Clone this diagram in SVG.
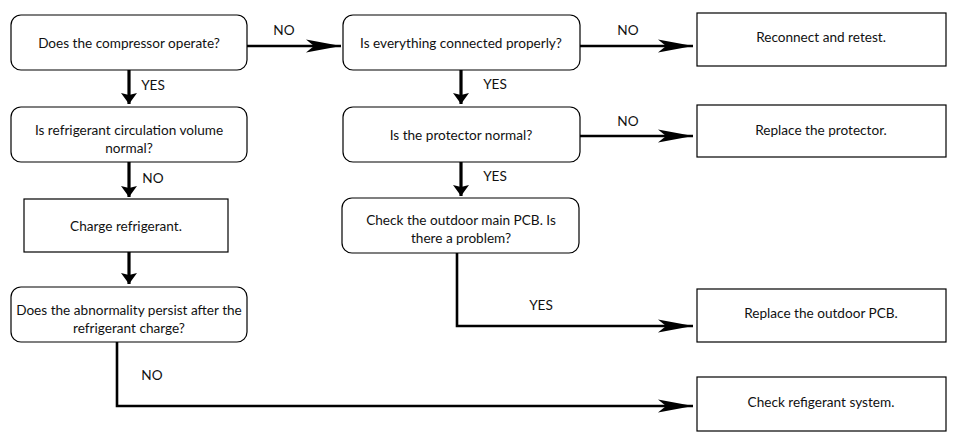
<svg xmlns="http://www.w3.org/2000/svg" width="959" height="440" viewBox="0 0 959 440">
<style>
.n{fill:#fff;stroke:#000;stroke-width:1.2}
.t{font-family:Lato,"Open Sans","Liberation Sans",sans-serif;font-size:13.6px;fill:#111;text-anchor:middle;dominant-baseline:central}
.c{fill:none;stroke:#000}
.h{stroke-width:2.6;marker-end:url(#ah)}
.v{stroke-width:3.2;marker-end:url(#av)}
</style>
<defs>
<marker id="ah" markerUnits="userSpaceOnUse" markerWidth="36" markerHeight="14" refX="35" refY="6.5" orient="auto" overflow="visible">
<path d="M0,0 L35,6.5 L0,13 L8,6.5 Z" fill="#000"/>
</marker>
<marker id="av" markerUnits="userSpaceOnUse" markerWidth="12" markerHeight="18" refX="11" refY="8" orient="auto" overflow="visible">
<path d="M0,0 L11,8 L0,16 L2,8 Z" fill="#000"/>
</marker>
</defs>
<rect width="959" height="440" fill="#fff"/>
<g id="connectors">
<path class="c h" d="M247,46 H341"/>
<path class="c h" d="M580,46 H693"/>
<path class="c h" d="M580,136 H693"/>
<path class="c h" d="M457,253 V326 H693"/>
<path class="c h" d="M117,342 V406 H693"/>
<path class="c v" d="M129,70 V104"/>
<path class="c v" d="M129,162 V197"/>
<path class="c v" d="M129,252 V284"/>
<path class="c v" d="M461,70 V104"/>
<path class="c v" d="M461,162 V196"/>
<text class="t" x="284" y="30">NO</text>
<text class="t" x="628" y="30">NO</text>
<text class="t" x="628" y="121">NO</text>
<text class="t" x="153" y="85">YES</text>
<text class="t" x="153" y="178">NO</text>
<text class="t" x="495" y="84">YES</text>
<text class="t" x="495" y="176">YES</text>
<text class="t" x="541" y="305">YES</text>
<text class="t" x="152" y="375">NO</text>
</g>
<g id="compressor"><rect class="n" x="11" y="15" width="236" height="55" rx="10"/><text class="t" x="129" y="43">Does the compressor operate?</text></g>
<g id="circulation"><rect class="n" x="11" y="107" width="236" height="55" rx="10"/><text class="t" x="129" y="130">Is refrigerant circulation volume</text><text class="t" x="129" y="148">normal?</text></g>
<g id="charge"><rect class="n" x="24" y="199" width="204" height="53"/><text class="t" x="126" y="226">Charge refrigerant.</text></g>
<g id="persist"><rect class="n" x="11" y="287" width="236" height="55" rx="10"/><text class="t" x="129" y="310">Does the abnormality persist after the</text><text class="t" x="129" y="328">refrigerant charge?</text></g>
<g id="connected"><rect class="n" x="343" y="15" width="237" height="55" rx="10"/><text class="t" x="461" y="43">Is everything connected properly?</text></g>
<g id="protector"><rect class="n" x="343" y="107" width="237" height="55" rx="10"/><text class="t" x="461" y="135">Is the protector normal?</text></g>
<g id="pcbcheck"><rect class="n" x="342" y="198" width="237" height="55" rx="10"/><text class="t" x="461" y="220">Check the outdoor main PCB. Is</text><text class="t" x="461" y="238">there a problem?</text></g>
<g id="reconnect"><rect class="n" x="697" y="13" width="249" height="53"/><text class="t" x="821" y="37">Reconnect and retest.</text></g>
<g id="replaceprotector"><rect class="n" x="697" y="105" width="249" height="52"/><text class="t" x="821" y="130">Replace the protector.</text></g>
<g id="replacepcb"><rect class="n" x="697" y="289" width="249" height="53"/><text class="t" x="821" y="313">Replace the outdoor PCB.</text></g>
<g id="checksystem"><rect class="n" x="697" y="377" width="249" height="54"/><text class="t" x="821" y="402">Check refigerant system.</text></g>
</svg>
